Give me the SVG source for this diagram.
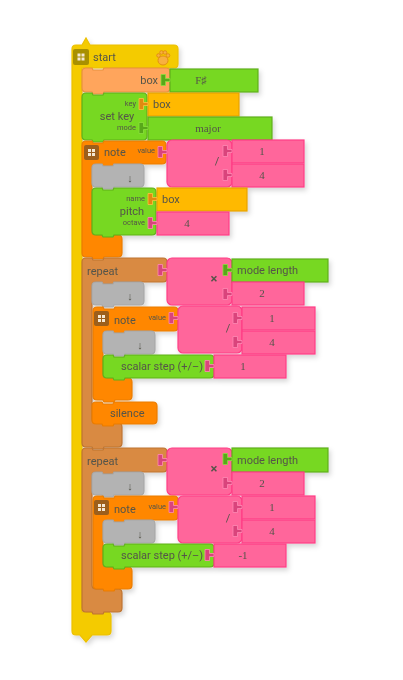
<svg xmlns="http://www.w3.org/2000/svg" xmlns:xlink="http://www.w3.org/1999/xlink" width="403" height="680" viewBox="0 0 403 680">
<style>
text{font-family:Roboto,"Liberation Sans",sans-serif;font-size:11px;fill:#55554a}
.s{font-size:7.5px}
.v{font-family:"Liberation Serif",serif;font-size:11px;text-anchor:middle}
.e{text-anchor:end}.m{text-anchor:middle}
.b{stroke-width:1.2}
.start{fill:#f4cb00;stroke:#ecc000}
.flow{fill:#ffa55c;stroke:#e8913f}
.green{fill:#77d821;stroke:#60b01c}
.gold{fill:#ffb900;stroke:#e6a200}
.pink{fill:#ff669b;stroke:#ff3d85}
.orange{fill:#ff8700;stroke:#ea7c00}
.brown{fill:#d98a43;stroke:#bd7431}
.gray{fill:#b3b3b3;stroke:#a8a8a8}
.icon{fill:#9c5f1c}
.icon2{fill:#a89000}
.dot{fill:#f4e8d4}
.cp{fill:#d9447c;stroke:#ff8ab5}
.cg{fill:#58a81a;stroke:#8ae03c}
.co{fill:#e08a10;stroke:#ffc040}
</style>
<defs>
<filter id="sh" x="-10%" y="-10%" width="125%" height="125%"><feDropShadow dx="2" dy="3" stdDeviation="2.5" flood-color="#000" flood-opacity=".16"/></filter>
<path id="c" d="M0-5.500h4.500v4H9v3H4.500V5.500H0z" stroke-width=".8"/>
<path id="d" class="dot" d="M4 4h3v3H4zM8 4h3v3H8zM4 8h3v3H4zM8 8h3v3H8z"/>
<g id="ic"><rect width="15" height="15" rx="2" class="icon"/><use xlink:href="#d"/></g>
</defs>
<g filter="url(#sh)">
<g id="start"><path class="start b" d="M76 45H82L86 38L90 45H174Q178 45 178 49V64Q178 68 174 68H82V612H107Q111 612 111 616V631Q111 635 107 635H92L86 642L80 635H76Q72 635 72 631V49Q72 45 76 45Z"/><rect x="73" y="49" width="16" height="16" rx="2" class="icon2"/><use xlink:href="#d" x="73.500" y="49.500"/><g fill="#f8b040" stroke="#e08a12" stroke-width=".9"><ellipse cx="163" cy="60.500" rx="5" ry="4.500"/><circle cx="158.500" cy="55.500" r="1.800"/><circle cx="161.500" cy="52.500" r="1.800"/><circle cx="165" cy="52.500" r="1.800"/><circle cx="168" cy="55.500" r="1.800"/></g><text x="93" y="61">start</text></g>
<g id="box-action"><path class="flow b" d="M86 68H92L93 70H103L104 68H166Q170 68 170 72V88Q170 92 166 92H104L103 94H93L92 92H86Q82 92 82 88V72Q82 68 86 68Z"/><text x="158" y="84" class="e">box</text></g>
<g id="box-value"><rect class="green b" x="170" y="69" width="88" height="23"/><text x="201" y="84" class="v">F♯</text></g>
<g id="setkey"><path class="green b" d="M86 93H92L93 95H103L104 93H143Q147 93 147 97V136Q147 140 143 140H104L103 142H93L92 140H86Q82 140 82 136V97Q82 93 86 93Z"/><text x="117" y="120" class="m">set key</text><text x="136" y="106" class="s e">key</text><text x="136" y="130" class="s e">mode</text></g>
<g id="key-box"><rect class="gold b" x="148" y="93" width="91" height="23"/><text x="153" y="108">box</text></g>
<g id="mode-value"><rect class="green b" x="148" y="117" width="124" height="23"/><text x="208" y="132" class="v">major</text></g>
<g id="note1"><path class="orange b" d="M86 141H92L93 143H103L104 141H162Q166 141 166 145V160Q166 164 162 164H114L113 166H103L102 164H96Q92 164 92 168V231Q92 235 96 235H118Q122 235 122 239V253Q122 257 118 257H104L103 259H93L92 257H86Q82 257 82 253V145Q82 141 86 141Z"/><use xlink:href="#ic" x="84" y="145"/><text x="104" y="156">note</text><text x="155" y="153" class="s e">value</text></g>
<g id="div1"><rect class="pink b" x="167" y="140" width="65" height="47" rx="5"/><text x="217" y="165" class="m">/</text></g>
<g id="n1-1"><rect class="pink b" x="232" y="140" width="72" height="23"/><text x="262" y="155" class="v">1</text></g>
<g id="n1-4"><rect class="pink b" x="232" y="164" width="72" height="23"/><text x="262" y="179" class="v">4</text></g>
<g id="vs1"><path class="gray b" d="M96 164H102L103 166H113L114 164H140Q144 164 144 168V183Q144 187 140 187H114L113 189H103L102 187H96Q92 187 92 183V168Q92 164 96 164Z"/><text x="130" y="182" class="m">↓</text></g>
<g id="pitch"><path class="green b" d="M96 188H102L103 190H113L114 188H152Q156 188 156 192V231Q156 235 152 235H114L113 237H103L102 235H96Q92 235 92 231V192Q92 188 96 188Z"/><text x="132" y="215" class="m">pitch</text><text x="145" y="201" class="s e">name</text><text x="145" y="225" class="s e">octave</text></g>
<g id="pitch-box"><rect class="gold b" x="157" y="188" width="90" height="23"/><text x="162" y="203">box</text></g>
<g id="pitch-4"><rect class="pink b" x="157" y="212" width="72" height="23"/><text x="187" y="227" class="v">4</text></g>

<g id="repeat1"><path class="brown b" d="M86 258H92L93 260H103L104 258H163Q167 258 167 262V278Q167 282 163 282H114L113 284H103L102 282H96Q92 282 92 286V419Q92 423 96 423H118Q122 423 122 427V443Q122 447 118 447H104L103 449H93L92 447H86Q82 447 82 443V262Q82 258 86 258Z"/><text x="87" y="275">repeat</text></g>
<g id="mul1"><rect class="pink b" x="167" y="258" width="65" height="47" rx="5"/><text x="214" y="283" class="m" style="font-size:13px;font-weight:700">×</text></g>
<g id="modelen1"><rect class="green b" x="232" y="259" width="96" height="23"/><text x="237" y="274">mode length</text></g>
<g id="n2"><rect class="pink b" x="232" y="282" width="72" height="23"/><text x="262" y="297" class="v">2</text></g>
<g id="vs2"><path class="gray b" d="M96 282H102L103 284H113L114 282H140Q144 282 144 286V301Q144 305 140 305H114L113 307H103L102 305H96Q92 305 92 301V286Q92 282 96 282Z"/><text x="130" y="300" class="m">↓</text></g>
<g id="note2"><path class="orange b" d="M97 307H103L104 309H114L115 307H174Q178 307 178 311V327Q178 331 174 331H125L124 333H114L113 331H107Q103 331 103 335V374Q103 378 107 378H128Q132 378 132 382V396Q132 400 128 400H115L114 402H104L103 400H97Q93 400 93 396V311Q93 307 97 307Z"/><use xlink:href="#ic" x="94" y="311"/><text x="114" y="324">note</text><text x="166" y="320" class="s e">value</text></g>
<g id="div2"><rect class="pink b" x="178" y="306" width="64" height="47" rx="5"/><text x="228" y="332" class="m">/</text></g>
<g id="n2-1"><rect class="pink b" x="242" y="307" width="73" height="23"/><text x="272" y="322" class="v">1</text></g>
<g id="n2-4"><rect class="pink b" x="242" y="331" width="73" height="23"/><text x="272" y="346" class="v">4</text></g>
<g id="vs3"><path class="gray b" d="M107 331H113L114 333H124L125 331H151Q155 331 155 335V350Q155 354 151 354H125L124 356H114L113 354H107Q103 354 103 350V335Q103 331 107 331Z"/><text x="140" y="349" class="m">↓</text></g>
<g id="scalar1"><path class="green b" d="M107 355H113L114 357H124L125 355H210Q214 355 214 359V374Q214 378 210 378H125L124 380H114L113 378H107Q103 378 103 374V359Q103 355 107 355Z"/><text x="121" y="370">scalar step (+/–)</text></g>
<g id="s1-val"><rect class="pink b" x="214" y="355" width="72" height="23"/><text x="243" y="370" class="v">1</text></g>
<g id="silence"><path class="orange b" d="M96 402H102L103 404H113L114 402H153Q157 402 157 406V420Q157 424 153 424H114L113 426H103L102 424H96Q92 424 92 420V406Q92 402 96 402Z"/><text x="110" y="417">silence</text></g>

<g id="repeat2"><path class="brown b" d="M86 448H92L93 450H103L104 448H163Q167 448 167 452V468Q167 472 163 472H114L113 474H103L102 472H96Q92 472 92 476V585Q92 589 96 589H118Q122 589 122 593V608Q122 612 118 612H104L103 614H93L92 612H86Q82 612 82 608V452Q82 448 86 448Z"/><text x="87" y="465">repeat</text></g>
<g id="mul2"><rect class="pink b" x="167" y="448" width="65" height="47" rx="5"/><text x="214" y="473" class="m" style="font-size:13px;font-weight:700">×</text></g>
<g id="modelen2"><rect class="green b" x="232" y="448" width="96" height="24"/><text x="237" y="464">mode length</text></g>
<g id="n3"><rect class="pink b" x="232" y="472" width="72" height="23"/><text x="262" y="487" class="v">2</text></g>
<g id="vs4"><path class="gray b" d="M96 472H102L103 474H113L114 472H140Q144 472 144 476V491Q144 495 140 495H114L113 497H103L102 495H96Q92 495 92 491V476Q92 472 96 472Z"/><text x="130" y="490" class="m">↓</text></g>
<g id="note3"><path class="orange b" d="M97 496H103L104 498H114L115 496H174Q178 496 178 500V516Q178 520 174 520H125L124 522H114L113 520H107Q103 520 103 524V563Q103 567 107 567H128Q132 567 132 571V585Q132 589 128 589H115L114 591H104L103 589H97Q93 589 93 585V500Q93 496 97 496Z"/><use xlink:href="#ic" x="94" y="500"/><text x="114" y="513">note</text><text x="166" y="509" class="s e">value</text></g>
<g id="div3"><rect class="pink b" x="178" y="496" width="64" height="47" rx="5"/><text x="228" y="522" class="m">/</text></g>
<g id="n3-1"><rect class="pink b" x="242" y="496" width="73" height="23"/><text x="272" y="511" class="v">1</text></g>
<g id="n3-4"><rect class="pink b" x="242" y="520" width="73" height="23"/><text x="272" y="535" class="v">4</text></g>
<g id="vs5"><path class="gray b" d="M107 520H113L114 522H124L125 520H151Q155 520 155 524V539Q155 543 151 543H125L124 545H114L113 543H107Q103 543 103 539V524Q103 520 107 520Z"/><text x="140" y="538" class="m">↓</text></g>
<g id="scalar2"><path class="green b" d="M107 544H113L114 546H124L125 544H210Q214 544 214 548V563Q214 567 210 567H125L124 569H114L113 567H107Q103 567 103 563V548Q103 544 107 544Z"/><text x="121" y="559">scalar step (+/–)</text></g>
<g id="s2-val"><rect class="pink b" x="214" y="544" width="72" height="23"/><text x="243" y="559" class="v">-1</text></g>
</g>
<g id="connectors">
<use xlink:href="#c" class="cg" x="161" y="80"/>
<use xlink:href="#c" class="co" x="139" y="104"/>
<use xlink:href="#c" class="cg" x="139" y="128"/>
<use xlink:href="#c" class="cp" x="158" y="152"/>
<use xlink:href="#c" class="cp" x="223" y="151"/>
<use xlink:href="#c" class="cp" x="223" y="175"/>
<use xlink:href="#c" class="co" x="148" y="199"/>
<use xlink:href="#c" class="cp" x="148" y="223"/>
<use xlink:href="#c" class="cp" x="158" y="270"/>
<use xlink:href="#c" class="cg" x="223" y="270"/>
<use xlink:href="#c" class="cp" x="223" y="294"/>
<use xlink:href="#c" class="cp" x="169" y="318"/>
<use xlink:href="#c" class="cp" x="233" y="318"/>
<use xlink:href="#c" class="cp" x="233" y="342"/>
<use xlink:href="#c" class="cp" x="205" y="366"/>
<use xlink:href="#c" class="cp" x="158" y="460"/>
<use xlink:href="#c" class="cg" x="223" y="459"/>
<use xlink:href="#c" class="cp" x="223" y="483"/>
<use xlink:href="#c" class="cp" x="169" y="507"/>
<use xlink:href="#c" class="cp" x="233" y="507"/>
<use xlink:href="#c" class="cp" x="233" y="531"/>
<use xlink:href="#c" class="cp" x="205" y="555"/>
</g>
</svg>
